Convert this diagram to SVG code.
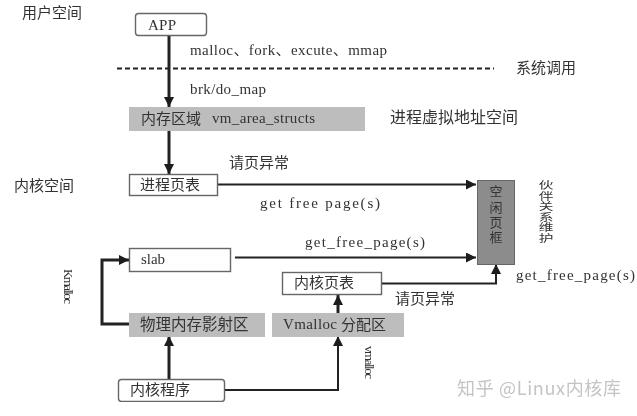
<svg xmlns="http://www.w3.org/2000/svg" width="637" height="416" viewBox="0 0 637 416">
<defs>
<marker id="a" markerUnits="userSpaceOnUse" markerWidth="12" markerHeight="10" refX="10" refY="5" orient="auto"><path d="M0 0L10 5L0 10Z" fill="#1c1c1c"/></marker>
<filter id="b" x="0" y="0" width="100%" height="100%"><feGaussianBlur stdDeviation="0.45"/></filter>
</defs>
<style>
text{font-family:"Noto Sans CJK SC","Liberation Serif",sans-serif;fill:#333}
.s{font-family:"Liberation Serif","Noto Sans CJK SC",serif;font-size:15px;fill:#333}
.c{font-family:"Noto Sans CJK SC",sans-serif;font-size:15px;fill:#333}
.v{writing-mode:vertical-rl}
.w{fill:#fff;stroke:#666;stroke-width:1.4}
.g{fill:#bdbdbd}
.l{fill:none;stroke:#222;stroke-width:2}
.t{stroke-width:3}
</style>
<rect width="637" height="416" fill="#fff"/>
<g filter="url(#b)">
<g id="connectors">
<path class="l t" d="M169 35V107" marker-end="url(#a)"/>
<path class="l t" d="M169 130V174" marker-end="url(#a)"/>
<path class="l" d="M218 184.500H476" marker-end="url(#a)"/>
<path class="l" d="M235 257.500H476" marker-end="url(#a)"/>
<path class="l" d="M382 283.500H496V264" marker-end="url(#a)"/>
<path class="l t" d="M129 324H102V260H129" marker-end="url(#a)"/>
<path class="l t" d="M169 379V336" marker-end="url(#a)"/>
<path class="l" d="M224 390H338V336" marker-end="url(#a)"/>
<path class="l t" d="M338 313V295" marker-end="url(#a)"/>
<path d="M117 68.500H494" fill="none" stroke="#222" stroke-width="2" stroke-dasharray="5 3"/>
</g>
<g id="app"><rect class="w" x="135.500" y="13.500" width="71" height="22" rx="3"/><text class="s" x="148" y="30" textLength="28">APP</text></g>
<g id="vma"><rect class="g" x="129" y="107" width="236" height="24"/><text class="c" x="141" y="124">内存区域</text><text class="s" x="212" y="123" textLength="103">vm_area_structs</text></g>
<g id="pgtable"><rect class="w" x="129.500" y="174.500" width="88" height="21"/><text class="c" x="140" y="190">进程页表</text></g>
<g id="free"><rect x="477.500" y="180.500" width="37" height="84" fill="#8c8c8c" stroke="#666"/><text class="c v" x="496" y="185" style="font-size:13px;letter-spacing:2.300px">空闲页框</text></g>
<g id="slab"><rect class="w" x="129.500" y="248.500" width="101" height="23"/><text class="s" x="141" y="264" textLength="24">slab</text></g>
<g id="kpt"><rect class="w" x="282.500" y="272.500" width="99" height="22"/><text class="c" x="294" y="288">内核页表</text></g>
<g id="phys"><rect class="g" x="129" y="313" width="136" height="24"/><text class="c" x="140" y="330" style="font-size:15.500px">物理内存影射区</text></g>
<g id="vmalloc"><rect class="g" x="272" y="313" width="132" height="24"/><text class="s" x="283" y="329" textLength="54">Vmalloc</text><text class="c" x="341" y="330">分配区</text></g>
<g id="kprog"><rect class="w" x="118.500" y="379.500" width="106" height="22" rx="3"/><text class="c" x="130" y="395">内核程序</text></g>
<g id="labels">
<text class="c" x="22" y="18">用户空间</text>
<text class="c" x="14" y="191">内核空间</text>
<text class="c" x="516" y="73">系统调用</text>
<text class="c" x="390" y="123" style="font-size:16px">进程虚拟地址空间</text>
<text class="c" x="229" y="168">请页异常</text>
<text class="c" x="395" y="304">请页异常</text>
<text class="s" x="190" y="55" textLength="197">malloc、fork、excute、mmap</text>
<text class="s" x="190" y="94" textLength="76">brk/do_map</text>
<text class="s" x="260" y="208" textLength="120">get free page(s)</text>
<text class="s" x="305" y="247" textLength="120">get_free_page(s)</text>
<text class="s" x="516" y="280" textLength="119">get_free_page(s)</text>
<text class="c v" transform="translate(546 180) scale(1.4 1)" style="font-size:10.500px">伙伴关系维护</text>
<text class="s" transform="translate(64 269) rotate(90)" textLength="35" style="font-size:13px">Kmalloc</text>
<text class="s" transform="translate(365 346) rotate(90)" textLength="33" style="font-size:13px">vmalloc</text>
<text x="457" y="395" textLength="164" style="font-size:18px;fill:#c4c4c4;font-family:'Noto Sans CJK SC',sans-serif">知乎 @Linux内核库</text>
</g>
</g>
</svg>
